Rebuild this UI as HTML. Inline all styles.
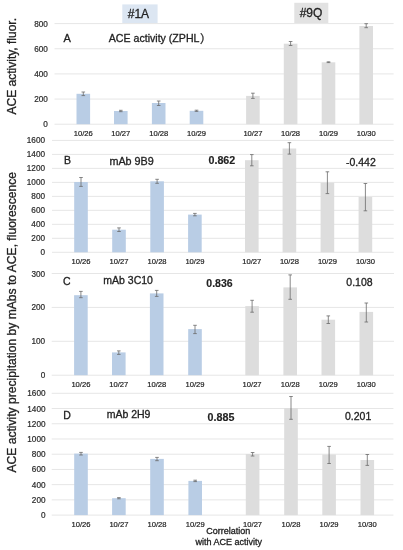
<!DOCTYPE html>
<html><head><meta charset="utf-8"><title>ACE activity</title>
<style>
html,body{margin:0;padding:0;background:#fff;}
body{width:403px;height:550px;overflow:hidden;}
svg{display:block;font-family:'Liberation Sans', Arial, 'Noto Sans CJK JP', sans-serif;}
</style></head><body>
<svg width="403" height="550" viewBox="0 0 403 550">
<rect width="403" height="550" fill="#fff"/>
<rect x="122.3" y="4.4" width="35.3" height="18.8" fill="#dce6f2"/>
<rect x="294.3" y="2.8" width="34" height="20.4" fill="#e2e2e2"/>
<rect x="54.50" y="123.70" width="339.10" height="1" fill="#e6e6e6"/>
<text x="47.80" y="127.20" font-size="8.2" text-anchor="end" font-weight="normal" fill="#2a2a2a" stroke="#2a2a2a" stroke-width="0.2" >0</text>
<rect x="54.50" y="98.55" width="339.10" height="1" fill="#e6e6e6"/>
<text x="47.80" y="102.05" font-size="8.2" text-anchor="end" font-weight="normal" fill="#2a2a2a" stroke="#2a2a2a" stroke-width="0.2" >200</text>
<rect x="54.50" y="73.40" width="339.10" height="1" fill="#e6e6e6"/>
<text x="47.80" y="76.90" font-size="8.2" text-anchor="end" font-weight="normal" fill="#2a2a2a" stroke="#2a2a2a" stroke-width="0.2" >400</text>
<rect x="54.50" y="48.25" width="339.10" height="1" fill="#e6e6e6"/>
<text x="47.80" y="51.75" font-size="8.2" text-anchor="end" font-weight="normal" fill="#2a2a2a" stroke="#2a2a2a" stroke-width="0.2" >600</text>
<rect x="54.50" y="23.10" width="339.10" height="1" fill="#e6e6e6"/>
<text x="47.80" y="26.60" font-size="8.2" text-anchor="end" font-weight="normal" fill="#2a2a2a" stroke="#2a2a2a" stroke-width="0.2" >800</text>
<rect x="76.50" y="93.80" width="13.6" height="30.40" fill="#b9cde5"/>
<path d="M83.30 92.00V95.60M81.50 92.00H85.10M81.50 95.60H85.10" stroke="#6a6a6a" stroke-width="0.8" fill="none"/>
<text x="83.30" y="135.60" font-size="7.6" text-anchor="middle" font-weight="normal" fill="#222" stroke="#222" stroke-width="0.2" >10/26</text>
<rect x="114.00" y="111.00" width="13.6" height="13.20" fill="#b9cde5"/>
<path d="M120.80 110.30V111.70M119.00 110.30H122.60M119.00 111.70H122.60" stroke="#6a6a6a" stroke-width="0.8" fill="none"/>
<text x="120.80" y="135.60" font-size="7.6" text-anchor="middle" font-weight="normal" fill="#222" stroke="#222" stroke-width="0.2" >10/27</text>
<rect x="151.90" y="103.00" width="13.6" height="21.20" fill="#b9cde5"/>
<path d="M158.70 101.00V105.50M156.90 101.00H160.50M156.90 105.50H160.50" stroke="#6a6a6a" stroke-width="0.8" fill="none"/>
<text x="158.70" y="135.60" font-size="7.6" text-anchor="middle" font-weight="normal" fill="#222" stroke="#222" stroke-width="0.2" >10/28</text>
<rect x="189.70" y="110.80" width="13.6" height="13.40" fill="#b9cde5"/>
<path d="M196.50 110.20V111.40M194.70 110.20H198.30M194.70 111.40H198.30" stroke="#6a6a6a" stroke-width="0.8" fill="none"/>
<text x="196.50" y="135.60" font-size="7.6" text-anchor="middle" font-weight="normal" fill="#222" stroke="#222" stroke-width="0.2" >10/29</text>
<rect x="246.10" y="95.90" width="13.6" height="28.30" fill="#dddddd"/>
<path d="M252.90 93.20V98.40M251.10 93.20H254.70M251.10 98.40H254.70" stroke="#6a6a6a" stroke-width="0.8" fill="none"/>
<text x="252.90" y="135.60" font-size="7.6" text-anchor="middle" font-weight="normal" fill="#222" stroke="#222" stroke-width="0.2" >10/27</text>
<rect x="283.80" y="43.70" width="13.6" height="80.50" fill="#dddddd"/>
<path d="M290.60 41.50V45.50M288.80 41.50H292.40M288.80 45.50H292.40" stroke="#6a6a6a" stroke-width="0.8" fill="none"/>
<text x="290.60" y="135.60" font-size="7.6" text-anchor="middle" font-weight="normal" fill="#222" stroke="#222" stroke-width="0.2" >10/28</text>
<rect x="321.70" y="62.30" width="13.6" height="61.90" fill="#dddddd"/>
<path d="M328.50 61.80V62.60M326.70 61.80H330.30M326.70 62.60H330.30" stroke="#6a6a6a" stroke-width="0.8" fill="none"/>
<text x="328.50" y="135.60" font-size="7.6" text-anchor="middle" font-weight="normal" fill="#222" stroke="#222" stroke-width="0.2" >10/29</text>
<rect x="359.40" y="26.00" width="13.6" height="98.20" fill="#dddddd"/>
<path d="M366.20 23.70V27.70M364.40 23.70H368.00M364.40 27.70H368.00" stroke="#6a6a6a" stroke-width="0.8" fill="none"/>
<text x="366.20" y="135.60" font-size="7.6" text-anchor="middle" font-weight="normal" fill="#222" stroke="#222" stroke-width="0.2" >10/30</text>
<rect x="52.00" y="251.80" width="341.70" height="1" fill="#e6e6e6"/>
<text x="45.00" y="255.30" font-size="8.2" text-anchor="end" font-weight="normal" fill="#2a2a2a" stroke="#2a2a2a" stroke-width="0.2" >0</text>
<rect x="52.00" y="237.81" width="341.70" height="1" fill="#e6e6e6"/>
<text x="45.00" y="241.31" font-size="8.2" text-anchor="end" font-weight="normal" fill="#2a2a2a" stroke="#2a2a2a" stroke-width="0.2" >200</text>
<rect x="52.00" y="223.83" width="341.70" height="1" fill="#e6e6e6"/>
<text x="45.00" y="227.33" font-size="8.2" text-anchor="end" font-weight="normal" fill="#2a2a2a" stroke="#2a2a2a" stroke-width="0.2" >400</text>
<rect x="52.00" y="209.84" width="341.70" height="1" fill="#e6e6e6"/>
<text x="45.00" y="213.34" font-size="8.2" text-anchor="end" font-weight="normal" fill="#2a2a2a" stroke="#2a2a2a" stroke-width="0.2" >600</text>
<rect x="52.00" y="195.85" width="341.70" height="1" fill="#e6e6e6"/>
<text x="45.00" y="199.35" font-size="8.2" text-anchor="end" font-weight="normal" fill="#2a2a2a" stroke="#2a2a2a" stroke-width="0.2" >800</text>
<rect x="52.00" y="181.86" width="341.70" height="1" fill="#e6e6e6"/>
<text x="45.00" y="185.36" font-size="8.2" text-anchor="end" font-weight="normal" fill="#2a2a2a" stroke="#2a2a2a" stroke-width="0.2" >1000</text>
<rect x="52.00" y="167.88" width="341.70" height="1" fill="#e6e6e6"/>
<text x="45.00" y="171.38" font-size="8.2" text-anchor="end" font-weight="normal" fill="#2a2a2a" stroke="#2a2a2a" stroke-width="0.2" >1200</text>
<rect x="52.00" y="153.89" width="341.70" height="1" fill="#e6e6e6"/>
<text x="45.00" y="157.39" font-size="8.2" text-anchor="end" font-weight="normal" fill="#2a2a2a" stroke="#2a2a2a" stroke-width="0.2" >1400</text>
<rect x="52.00" y="139.90" width="341.70" height="1" fill="#e6e6e6"/>
<text x="45.00" y="143.40" font-size="8.2" text-anchor="end" font-weight="normal" fill="#2a2a2a" stroke="#2a2a2a" stroke-width="0.2" >1600</text>
<rect x="74.20" y="182.00" width="13.6" height="70.30" fill="#b9cde5"/>
<path d="M81.00 177.50V186.40M79.20 177.50H82.80M79.20 186.40H82.80" stroke="#6a6a6a" stroke-width="0.8" fill="none"/>
<text x="81.00" y="264.20" font-size="7.6" text-anchor="middle" font-weight="normal" fill="#222" stroke="#222" stroke-width="0.2" >10/26</text>
<rect x="112.20" y="229.70" width="13.6" height="22.60" fill="#b9cde5"/>
<path d="M119.00 227.90V231.50M117.20 227.90H120.80M117.20 231.50H120.80" stroke="#6a6a6a" stroke-width="0.8" fill="none"/>
<text x="119.00" y="264.20" font-size="7.6" text-anchor="middle" font-weight="normal" fill="#222" stroke="#222" stroke-width="0.2" >10/27</text>
<rect x="150.30" y="181.30" width="13.6" height="71.00" fill="#b9cde5"/>
<path d="M157.10 179.30V183.30M155.30 179.30H158.90M155.30 183.30H158.90" stroke="#6a6a6a" stroke-width="0.8" fill="none"/>
<text x="157.10" y="264.20" font-size="7.6" text-anchor="middle" font-weight="normal" fill="#222" stroke="#222" stroke-width="0.2" >10/28</text>
<rect x="188.10" y="214.60" width="13.6" height="37.70" fill="#b9cde5"/>
<path d="M194.90 213.40V215.80M193.10 213.40H196.70M193.10 215.80H196.70" stroke="#6a6a6a" stroke-width="0.8" fill="none"/>
<text x="194.90" y="264.20" font-size="7.6" text-anchor="middle" font-weight="normal" fill="#222" stroke="#222" stroke-width="0.2" >10/29</text>
<rect x="245.00" y="160.20" width="13.6" height="92.10" fill="#dddddd"/>
<path d="M251.80 154.60V165.80M250.00 154.60H253.60M250.00 165.80H253.60" stroke="#6a6a6a" stroke-width="0.8" fill="none"/>
<text x="251.80" y="264.20" font-size="7.6" text-anchor="middle" font-weight="normal" fill="#222" stroke="#222" stroke-width="0.2" >10/27</text>
<rect x="282.60" y="148.50" width="13.6" height="103.80" fill="#dddddd"/>
<path d="M289.40 142.70V154.10M287.60 142.70H291.20M287.60 154.10H291.20" stroke="#6a6a6a" stroke-width="0.8" fill="none"/>
<text x="289.40" y="264.20" font-size="7.6" text-anchor="middle" font-weight="normal" fill="#222" stroke="#222" stroke-width="0.2" >10/28</text>
<rect x="320.60" y="182.70" width="13.6" height="69.60" fill="#dddddd"/>
<path d="M327.40 171.80V193.60M325.60 171.80H329.20M325.60 193.60H329.20" stroke="#6a6a6a" stroke-width="0.8" fill="none"/>
<text x="327.40" y="264.20" font-size="7.6" text-anchor="middle" font-weight="normal" fill="#222" stroke="#222" stroke-width="0.2" >10/29</text>
<rect x="358.60" y="196.90" width="13.6" height="55.40" fill="#dddddd"/>
<path d="M365.40 183.50V210.80M363.60 183.50H367.20M363.60 210.80H367.20" stroke="#6a6a6a" stroke-width="0.8" fill="none"/>
<text x="365.40" y="264.20" font-size="7.6" text-anchor="middle" font-weight="normal" fill="#222" stroke="#222" stroke-width="0.2" >10/30</text>
<rect x="51.70" y="374.70" width="342.30" height="1" fill="#e6e6e6"/>
<text x="45.20" y="378.20" font-size="8.2" text-anchor="end" font-weight="normal" fill="#2a2a2a" stroke="#2a2a2a" stroke-width="0.2" >0</text>
<rect x="51.70" y="340.80" width="342.30" height="1" fill="#e6e6e6"/>
<text x="45.20" y="344.30" font-size="8.2" text-anchor="end" font-weight="normal" fill="#2a2a2a" stroke="#2a2a2a" stroke-width="0.2" >100</text>
<rect x="51.70" y="306.90" width="342.30" height="1" fill="#e6e6e6"/>
<text x="45.20" y="310.40" font-size="8.2" text-anchor="end" font-weight="normal" fill="#2a2a2a" stroke="#2a2a2a" stroke-width="0.2" >200</text>
<rect x="51.70" y="273.00" width="342.30" height="1" fill="#e6e6e6"/>
<text x="45.20" y="276.50" font-size="8.2" text-anchor="end" font-weight="normal" fill="#2a2a2a" stroke="#2a2a2a" stroke-width="0.2" >300</text>
<rect x="74.10" y="295.20" width="13.6" height="80.00" fill="#b9cde5"/>
<path d="M80.90 291.40V297.70M79.10 291.40H82.70M79.10 297.70H82.70" stroke="#6a6a6a" stroke-width="0.8" fill="none"/>
<text x="80.90" y="386.70" font-size="7.6" text-anchor="middle" font-weight="normal" fill="#222" stroke="#222" stroke-width="0.2" >10/26</text>
<rect x="112.00" y="352.40" width="13.6" height="22.80" fill="#b9cde5"/>
<path d="M118.80 350.90V354.40M117.00 350.90H120.60M117.00 354.40H120.60" stroke="#6a6a6a" stroke-width="0.8" fill="none"/>
<text x="118.80" y="386.70" font-size="7.6" text-anchor="middle" font-weight="normal" fill="#222" stroke="#222" stroke-width="0.2" >10/27</text>
<rect x="149.90" y="293.40" width="13.6" height="81.80" fill="#b9cde5"/>
<path d="M156.70 290.40V296.40M154.90 290.40H158.50M154.90 296.40H158.50" stroke="#6a6a6a" stroke-width="0.8" fill="none"/>
<text x="156.70" y="386.70" font-size="7.6" text-anchor="middle" font-weight="normal" fill="#222" stroke="#222" stroke-width="0.2" >10/28</text>
<rect x="188.20" y="329.10" width="13.6" height="46.10" fill="#b9cde5"/>
<path d="M195.00 325.30V333.60M193.20 325.30H196.80M193.20 333.60H196.80" stroke="#6a6a6a" stroke-width="0.8" fill="none"/>
<text x="195.00" y="386.70" font-size="7.6" text-anchor="middle" font-weight="normal" fill="#222" stroke="#222" stroke-width="0.2" >10/29</text>
<rect x="245.30" y="306.10" width="13.6" height="69.10" fill="#dddddd"/>
<path d="M252.10 300.30V312.20M250.30 300.30H253.90M250.30 312.20H253.90" stroke="#6a6a6a" stroke-width="0.8" fill="none"/>
<text x="252.10" y="386.70" font-size="7.6" text-anchor="middle" font-weight="normal" fill="#222" stroke="#222" stroke-width="0.2" >10/27</text>
<rect x="283.40" y="287.40" width="13.6" height="87.80" fill="#dddddd"/>
<path d="M290.20 274.90V299.30M288.40 274.90H292.00M288.40 299.30H292.00" stroke="#6a6a6a" stroke-width="0.8" fill="none"/>
<text x="290.20" y="386.70" font-size="7.6" text-anchor="middle" font-weight="normal" fill="#222" stroke="#222" stroke-width="0.2" >10/28</text>
<rect x="321.50" y="319.70" width="13.6" height="55.50" fill="#dddddd"/>
<path d="M328.30 315.90V323.50M326.50 315.90H330.10M326.50 323.50H330.10" stroke="#6a6a6a" stroke-width="0.8" fill="none"/>
<text x="328.30" y="386.70" font-size="7.6" text-anchor="middle" font-weight="normal" fill="#222" stroke="#222" stroke-width="0.2" >10/29</text>
<rect x="359.50" y="311.90" width="13.6" height="63.30" fill="#dddddd"/>
<path d="M366.30 303.00V322.00M364.50 303.00H368.10M364.50 322.00H368.10" stroke="#6a6a6a" stroke-width="0.8" fill="none"/>
<text x="366.30" y="386.70" font-size="7.6" text-anchor="middle" font-weight="normal" fill="#222" stroke="#222" stroke-width="0.2" >10/30</text>
<rect x="51.70" y="514.60" width="341.70" height="1" fill="#e6e6e6"/>
<text x="45.50" y="518.10" font-size="8.2" text-anchor="end" font-weight="normal" fill="#2a2a2a" stroke="#2a2a2a" stroke-width="0.2" >0</text>
<rect x="51.70" y="499.38" width="341.70" height="1" fill="#e6e6e6"/>
<text x="45.50" y="502.88" font-size="8.2" text-anchor="end" font-weight="normal" fill="#2a2a2a" stroke="#2a2a2a" stroke-width="0.2" >200</text>
<rect x="51.70" y="484.15" width="341.70" height="1" fill="#e6e6e6"/>
<text x="45.50" y="487.65" font-size="8.2" text-anchor="end" font-weight="normal" fill="#2a2a2a" stroke="#2a2a2a" stroke-width="0.2" >400</text>
<rect x="51.70" y="468.93" width="341.70" height="1" fill="#e6e6e6"/>
<text x="45.50" y="472.43" font-size="8.2" text-anchor="end" font-weight="normal" fill="#2a2a2a" stroke="#2a2a2a" stroke-width="0.2" >600</text>
<rect x="51.70" y="453.70" width="341.70" height="1" fill="#e6e6e6"/>
<text x="45.50" y="457.20" font-size="8.2" text-anchor="end" font-weight="normal" fill="#2a2a2a" stroke="#2a2a2a" stroke-width="0.2" >800</text>
<rect x="51.70" y="438.48" width="341.70" height="1" fill="#e6e6e6"/>
<text x="45.50" y="441.98" font-size="8.2" text-anchor="end" font-weight="normal" fill="#2a2a2a" stroke="#2a2a2a" stroke-width="0.2" >1000</text>
<rect x="51.70" y="423.25" width="341.70" height="1" fill="#e6e6e6"/>
<text x="45.50" y="426.75" font-size="8.2" text-anchor="end" font-weight="normal" fill="#2a2a2a" stroke="#2a2a2a" stroke-width="0.2" >1200</text>
<rect x="51.70" y="408.02" width="341.70" height="1" fill="#e6e6e6"/>
<text x="45.50" y="411.52" font-size="8.2" text-anchor="end" font-weight="normal" fill="#2a2a2a" stroke="#2a2a2a" stroke-width="0.2" >1400</text>
<rect x="51.70" y="392.80" width="341.70" height="1" fill="#e6e6e6"/>
<text x="45.50" y="396.30" font-size="8.2" text-anchor="end" font-weight="normal" fill="#2a2a2a" stroke="#2a2a2a" stroke-width="0.2" >1600</text>
<rect x="74.20" y="453.60" width="13.6" height="61.50" fill="#b9cde5"/>
<path d="M81.00 452.40V455.00M79.20 452.40H82.80M79.20 455.00H82.80" stroke="#6a6a6a" stroke-width="0.8" fill="none"/>
<text x="81.00" y="527.40" font-size="7.6" text-anchor="middle" font-weight="normal" fill="#222" stroke="#222" stroke-width="0.2" >10/26</text>
<rect x="112.10" y="498.20" width="13.6" height="16.90" fill="#b9cde5"/>
<path d="M118.90 497.60V498.80M117.10 497.60H120.70M117.10 498.80H120.70" stroke="#6a6a6a" stroke-width="0.8" fill="none"/>
<text x="118.90" y="527.40" font-size="7.6" text-anchor="middle" font-weight="normal" fill="#222" stroke="#222" stroke-width="0.2" >10/27</text>
<rect x="150.20" y="458.90" width="13.6" height="56.20" fill="#b9cde5"/>
<path d="M157.00 457.40V460.70M155.20 457.40H158.80M155.20 460.70H158.80" stroke="#6a6a6a" stroke-width="0.8" fill="none"/>
<text x="157.00" y="527.40" font-size="7.6" text-anchor="middle" font-weight="normal" fill="#222" stroke="#222" stroke-width="0.2" >10/28</text>
<rect x="188.40" y="480.90" width="13.6" height="34.20" fill="#b9cde5"/>
<path d="M195.20 480.20V481.60M193.40 480.20H197.00M193.40 481.60H197.00" stroke="#6a6a6a" stroke-width="0.8" fill="none"/>
<text x="195.20" y="527.40" font-size="7.6" text-anchor="middle" font-weight="normal" fill="#222" stroke="#222" stroke-width="0.2" >10/29</text>
<rect x="245.80" y="454.00" width="13.6" height="61.10" fill="#dddddd"/>
<path d="M252.60 452.50V456.00M250.80 452.50H254.40M250.80 456.00H254.40" stroke="#6a6a6a" stroke-width="0.8" fill="none"/>
<text x="252.60" y="527.40" font-size="7.6" text-anchor="middle" font-weight="normal" fill="#222" stroke="#222" stroke-width="0.2" >10/27</text>
<rect x="284.20" y="408.20" width="13.6" height="106.90" fill="#dddddd"/>
<path d="M291.00 396.50V419.30M289.20 396.50H292.80M289.20 419.30H292.80" stroke="#6a6a6a" stroke-width="0.8" fill="none"/>
<text x="291.00" y="527.40" font-size="7.6" text-anchor="middle" font-weight="normal" fill="#222" stroke="#222" stroke-width="0.2" >10/28</text>
<rect x="322.30" y="454.50" width="13.6" height="60.60" fill="#dddddd"/>
<path d="M329.10 446.40V463.50M327.30 446.40H330.90M327.30 463.50H330.90" stroke="#6a6a6a" stroke-width="0.8" fill="none"/>
<text x="329.10" y="527.40" font-size="7.6" text-anchor="middle" font-weight="normal" fill="#222" stroke="#222" stroke-width="0.2" >10/29</text>
<rect x="360.50" y="460.00" width="13.6" height="55.10" fill="#dddddd"/>
<path d="M367.30 454.50V465.40M365.50 454.50H369.10M365.50 465.40H369.10" stroke="#6a6a6a" stroke-width="0.8" fill="none"/>
<text x="367.30" y="527.40" font-size="7.6" text-anchor="middle" font-weight="normal" fill="#222" stroke="#222" stroke-width="0.2" >10/30</text>
<text x="138.40" y="18.30" font-size="12" text-anchor="middle" font-weight="normal" fill="#222" stroke="#222" stroke-width="0.3" >#1A</text>
<text x="311.00" y="17.10" font-size="12" text-anchor="middle" font-weight="normal" fill="#222" stroke="#222" stroke-width="0.3" >#9Q</text>
<text x="63.60" y="42.00" font-size="11" text-anchor="start" font-weight="normal" fill="#222" stroke="#222" stroke-width="0.3" >A</text>
<text x="108.80" y="42.20" font-size="10.6" text-anchor="start" font-weight="normal" fill="#222" stroke="#222" stroke-width="0.3" >ACE activity (ZPHL<tspan font-family="Noto Sans CJK JP" font-size="11.4" dx="0.5" dy="0.4">）</tspan></text>
<text x="64.00" y="164.40" font-size="10.5" text-anchor="start" font-weight="normal" fill="#222" stroke="#222" stroke-width="0.3" >B</text>
<text x="109.40" y="164.70" font-size="10.8" text-anchor="start" font-weight="normal" fill="#222" stroke="#222" stroke-width="0.3" >mAb 9B9</text>
<text x="208.50" y="163.90" font-size="10.7" text-anchor="start" font-weight="bold" fill="#222" stroke="#222" stroke-width="0.15" >0.862</text>
<text x="346.00" y="165.80" font-size="10.5" text-anchor="start" font-weight="normal" fill="#222" stroke="#222" stroke-width="0.3" >-0.442</text>
<text x="63.00" y="284.60" font-size="10.5" text-anchor="start" font-weight="normal" fill="#222" stroke="#222" stroke-width="0.3" >C</text>
<text x="103.30" y="284.40" font-size="10.5" text-anchor="start" font-weight="normal" fill="#222" stroke="#222" stroke-width="0.3" >mAb 3C10</text>
<text x="206.30" y="286.50" font-size="10.5" text-anchor="start" font-weight="bold" fill="#222" stroke="#222" stroke-width="0.15" >0.836</text>
<text x="346.30" y="285.50" font-size="10.5" text-anchor="start" font-weight="normal" fill="#222" stroke="#222" stroke-width="0.3" >0.108</text>
<text x="63.30" y="418.60" font-size="10.5" text-anchor="start" font-weight="normal" fill="#222" stroke="#222" stroke-width="0.3" >D</text>
<text x="106.70" y="418.40" font-size="10.5" text-anchor="start" font-weight="normal" fill="#222" stroke="#222" stroke-width="0.3" >mAb 2H9</text>
<text x="207.60" y="421.00" font-size="10.7" text-anchor="start" font-weight="bold" fill="#222" stroke="#222" stroke-width="0.15" >0.885</text>
<text x="345.00" y="419.70" font-size="10.5" text-anchor="start" font-weight="normal" fill="#222" stroke="#222" stroke-width="0.3" >0.201</text>
<text x="228.30" y="534.00" font-size="9" text-anchor="middle" font-weight="normal" fill="#222" stroke="#222" stroke-width="0.3" >Correlation</text>
<text x="228.70" y="544.50" font-size="9" text-anchor="middle" font-weight="normal" fill="#222" stroke="#222" stroke-width="0.3" >with ACE activity</text>
<text x="16.30" y="66.20" font-size="12" text-anchor="middle" font-weight="normal" fill="#222" stroke="#222" stroke-width="0.3" transform="rotate(-90 16.30 66.20)">ACE activity, fluor.</text>
<text x="16.00" y="322.30" font-size="12.1" text-anchor="middle" font-weight="normal" fill="#222" stroke="#222" stroke-width="0.3" transform="rotate(-90 16.00 322.30)">ACE activity precipitation by mAbs to ACE, fluorescence</text>
</svg>
</body></html>
